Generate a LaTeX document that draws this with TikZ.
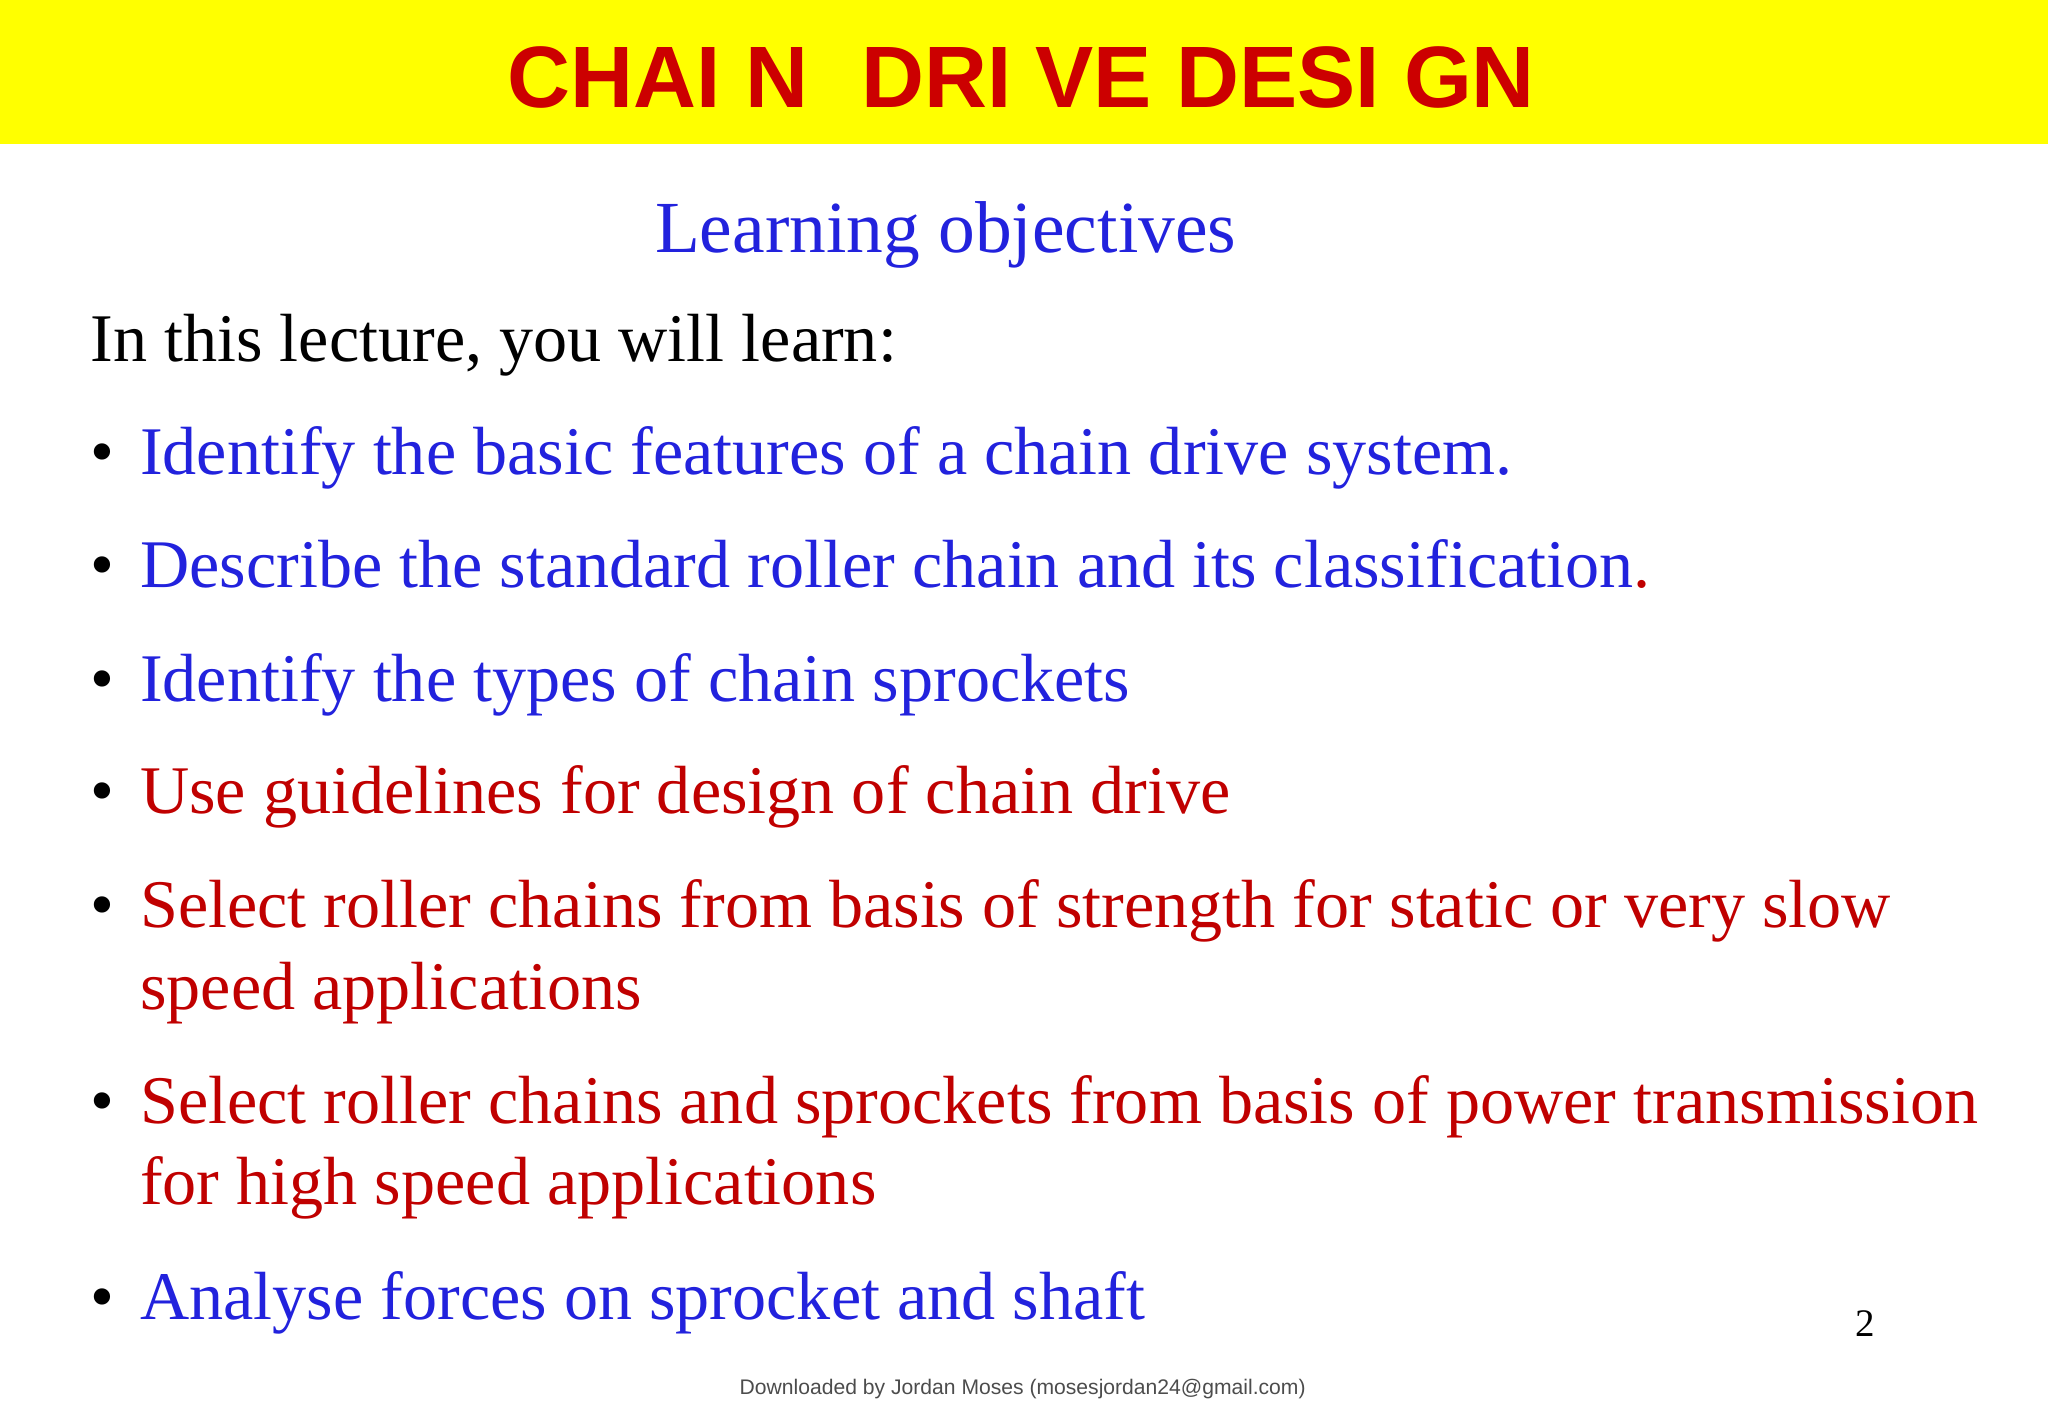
\documentclass[tikz,border=0pt]{standalone}
\usepackage{fontspec}
\setmainfont{Liberation Serif}
\newfontfamily\hsans{Liberation Sans}
\definecolor{tblue}{RGB}{34,34,221}
\definecolor{tred}{RGB}{192,0,0}
\definecolor{ttitle}{RGB}{204,0,0}
\definecolor{tyel}{RGB}{255,255,0}
\begin{document}
\begin{tikzpicture}[x=0.02cm,y=-0.02cm,
  body/.style={anchor=base west,inner sep=0pt,font=\fontsize{29.7}{36}\selectfont},
  bul/.style={anchor=base west,inner sep=0pt,font=\fontsize{29.7}{36}\selectfont}]
\useasboundingbox (0,0) rectangle (1568,1086);
\fill[tyel] (0,0) rectangle (1568,110);
\node[inner sep=0pt,anchor=base,text=ttitle,font=\hsans\bfseries\fontsize{38}{44}\selectfont] (title) at (782,82) {CHAI N\,\, DRI VE DESI GN};
\node[inner sep=0pt,anchor=base,text=tblue,font=\fontsize{32}{38}\selectfont] (lo) at (724,193) {Learning objectives};
\node[body] (intro) at (69,277) {In this lecture, you will learn:};
\foreach \y in {363,450,537,623,710,860,1010} \node[bul] at (69,\y) {\textbullet};
\node[body,text=tblue] (a) at (107,363) {Identify the basic features of a chain drive system.};
\node[body,text=tblue] (b) at (107,450) {Describe the standard roller chain and its classification\textcolor{tred}{.}};
\node[body,text=tblue] (c) at (107,537) {Identify the types of chain sprockets};
\node[body,text=tred] (d) at (107,623) {Use guidelines for design of chain drive};
\node[body,text=tred] (e1) at (107,710) {Select roller chains from basis of strength for static or very slow};
\node[body,text=tred] (e2) at (107,773) {speed applications};
\node[body,text=tred] (f1) at (107,860) {Select roller chains and sprockets from basis of power transmission};
\node[body,text=tred] (f2) at (107,922) {for high speed applications};
\node[body,text=tblue] (g) at (107,1010) {Analyse forces on sprocket and shaft};
\node[anchor=base,inner sep=0pt,font=\fontsize{17}{20}\selectfont] (pn) at (1428,1023) {2};
\node[anchor=base,inner sep=0pt,text=black!70,font=\hsans\fontsize{9.2}{11}\selectfont] (ft) at (783,1068) {Downloaded by Jordan Moses (mosesjordan24@gmail.com)};
\end{tikzpicture}
\end{document}
